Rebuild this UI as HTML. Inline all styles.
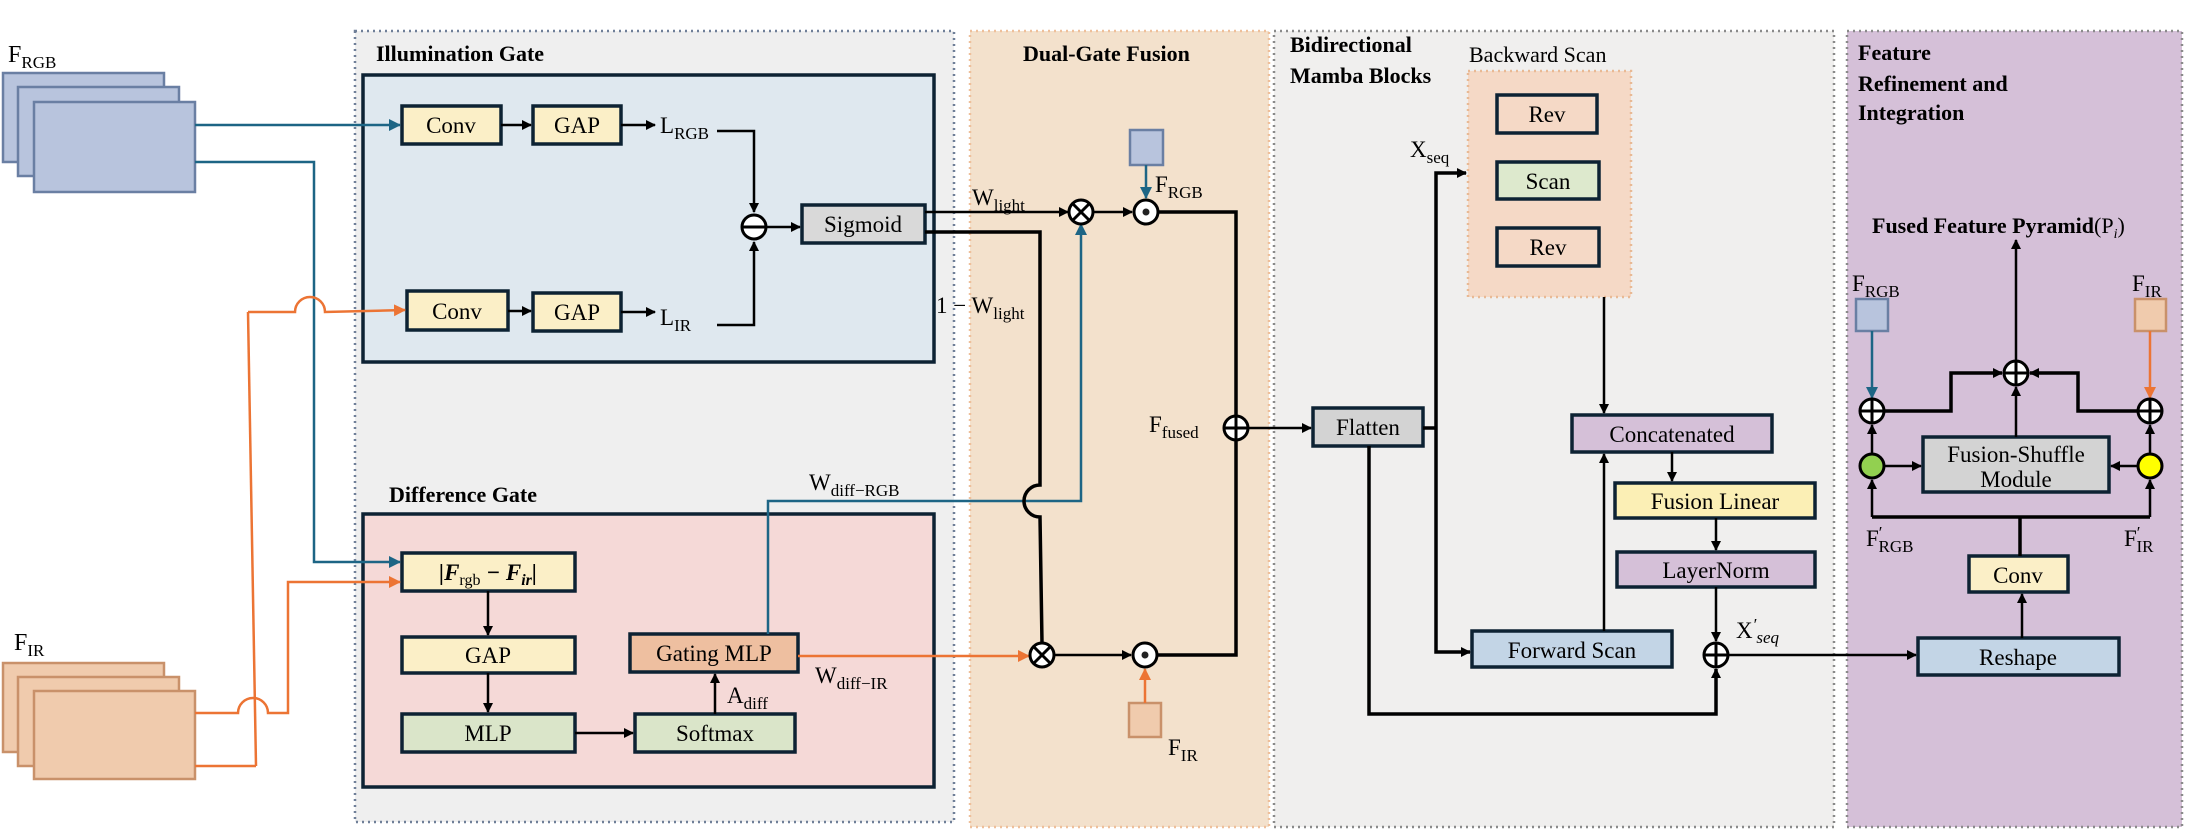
<!DOCTYPE html>
<html><head><meta charset="utf-8">
<style>
html,body{margin:0;padding:0;background:#fff;}
svg{display:block;font-family:"Liberation Serif","DejaVu Serif","Times New Roman",serif;}
svg text{font-family:"Liberation Serif","DejaVu Serif","Times New Roman",serif;fill:#000;}
.b{font-weight:bold;}
</style></head>
<body>
<svg width="2186" height="830" viewBox="0 0 2186 830" xmlns="http://www.w3.org/2000/svg" font-family="Liberation Serif, DejaVu Serif, serif">
<defs>
<marker id="ak" markerWidth="10" markerHeight="10" refX="9" refY="5" orient="auto" markerUnits="userSpaceOnUse"><path d="M0,0 L10,5 L0,10 z" fill="#000"/></marker>
<marker id="ab" markerWidth="12" markerHeight="12" refX="11" refY="6" orient="auto" markerUnits="userSpaceOnUse"><path d="M0,0 L12,6 L0,12 z" fill="#1d6585"/></marker>
<marker id="ao" markerWidth="12" markerHeight="12" refX="11" refY="6" orient="auto" markerUnits="userSpaceOnUse"><path d="M0,0 L12,6 L0,12 z" fill="#ec7434"/></marker>
</defs>

<!-- panels -->
<rect x="355" y="31" width="599" height="791" fill="#efefef" stroke="#6f7f98" stroke-width="2.5" stroke-dasharray="2,4"/>
<rect x="970" y="31" width="299" height="796" fill="#f3e1cc" stroke="#eebf9a" stroke-width="2.5" stroke-dasharray="2,4"/>
<rect x="1274" y="31" width="560" height="796" fill="#f0efee" stroke="#8a8a8a" stroke-width="2.5" stroke-dasharray="2,4"/>
<rect x="1847" y="31" width="335" height="796" fill="#d5c0d8" stroke="#8a8a8a" stroke-width="2.5" stroke-dasharray="2,4"/>

<!-- titles -->
<text x="376" y="61" font-size="22" class="b">Illumination Gate</text>
<text x="389" y="502" font-size="22" class="b">Difference Gate</text>
<text x="1023" y="61" font-size="22" class="b">Dual-Gate Fusion</text>
<text x="1290" y="52" font-size="22" class="b">Bidirectional</text>
<text x="1290" y="83" font-size="22" class="b">Mamba Blocks</text>
<text x="1469" y="62" font-size="22">Backward Scan</text>
<text x="1858" y="60" font-size="22" class="b">Feature</text>
<text x="1858" y="91" font-size="22" class="b">Refinement and</text>
<text x="1858" y="120" font-size="22" class="b">Integration</text>
<text x="1872" y="233" font-size="22" class="b">Fused Feature Pyramid<tspan font-weight="normal">(P</tspan><tspan font-weight="normal" font-style="italic" font-size="14" dy="5">i</tspan><tspan font-weight="normal" dy="-5">)</tspan></text>

<!-- inner boxes -->
<rect x="363" y="75" width="571" height="287" fill="#dfe8ef" stroke="#0d2233" stroke-width="3.5"/>
<rect x="363" y="514" width="571" height="273" fill="#f5d9d7" stroke="#0d2233" stroke-width="3.5"/>
<rect x="1468" y="71" width="163" height="226" fill="#f5d9c6" stroke="#e8b994" stroke-width="2.5" stroke-dasharray="2,4"/>

<!-- RGB stack -->
<g fill="#b8c4dd" stroke="#6a7fa3" stroke-width="2.5">
<rect x="3" y="73" width="161" height="89"/>
<rect x="18" y="87" width="161" height="89"/>
<rect x="34" y="102" width="161" height="90"/>
</g>
<text x="8" y="62" font-size="24">F<tspan font-size="17" dy="6">RGB</tspan></text>
<!-- IR stack -->
<g fill="#f0cbad" stroke="#c9916a" stroke-width="2.5">
<rect x="3" y="663" width="161" height="89"/>
<rect x="18" y="677" width="161" height="89"/>
<rect x="34" y="691" width="161" height="88"/>
</g>
<text x="14" y="650" font-size="24">F<tspan font-size="17" dy="6">IR</tspan></text>

<g stroke="#0d2233" stroke-width="3.5">
<rect x="402" y="106" width="99" height="38" fill="#fbefc7"/>
<rect x="533" y="106" width="88" height="38" fill="#fbefc7"/>
<rect x="407" y="291" width="101" height="39" fill="#fbefc7"/>
<rect x="533" y="293" width="88" height="38" fill="#fbefc7"/>
<rect x="802" y="205" width="123" height="38" fill="#d9d9d9"/>
<rect x="402" y="553" width="173" height="38" fill="#fbefc7"/>
<rect x="402" y="637" width="173" height="36" fill="#fbefc7"/>
<rect x="402" y="714" width="173" height="38" fill="#dae5c9"/>
<rect x="635" y="714" width="160" height="38" fill="#dae5c9"/>
<rect x="630" y="634" width="168" height="38" fill="#eebfa0"/>
<rect x="1497" y="95" width="100" height="38" fill="#f5d9c6"/>
<rect x="1497" y="162" width="102" height="37" fill="#dde9cd"/>
<rect x="1497" y="228" width="102" height="38" fill="#f5d9c6"/>
<rect x="1313" y="408" width="110" height="38" fill="#d3d3d3"/>
<rect x="1572" y="415" width="200" height="37" fill="#d5c0d8"/>
<rect x="1615" y="483" width="200" height="35" fill="#fbefb5"/>
<rect x="1617" y="552" width="198" height="35" fill="#d5c0d8"/>
<rect x="1472" y="631" width="200" height="36" fill="#c3d5e6"/>
<rect x="1918" y="638" width="201" height="37" fill="#c3d5e6"/>
<rect x="1969" y="556" width="99" height="36" fill="#fbefc7"/>
<rect x="1923" y="437" width="186" height="55" fill="#d3d3d3"/>
</g>
<g font-size="23" text-anchor="middle">
<text x="451" y="133">Conv</text>
<text x="577" y="133">GAP</text>
<text x="457" y="319">Conv</text>
<text x="577" y="320">GAP</text>
<text x="863" y="232">Sigmoid</text>
<text x="488" y="580" font-style="italic" font-weight="bold">|F<tspan font-size="16" font-style="normal" font-weight="normal" dy="5">rgb</tspan><tspan dy="-5"> − F</tspan><tspan font-size="16" dy="5">ir</tspan><tspan dy="-5">|</tspan></text>
<text x="488" y="663">GAP</text>
<text x="488" y="741">MLP</text>
<text x="715" y="741">Softmax</text>
<text x="714" y="661">Gating MLP</text>
<text x="1547" y="122">Rev</text>
<text x="1548" y="189">Scan</text>
<text x="1548" y="255">Rev</text>
<text x="1368" y="435">Flatten</text>
<text x="1672" y="442">Concatenated</text>
<text x="1715" y="509">Fusion Linear</text>
<text x="1716" y="578">LayerNorm</text>
<text x="1572" y="658">Forward Scan</text>
<text x="2018" y="665">Reshape</text>
<text x="2018" y="583">Conv</text>
<text x="2016" y="462">Fusion-Shuffle</text>
<text x="2016" y="487">Module</text>
</g>

<g fill="none" stroke="#000" stroke-width="2.5">
<line x1="501" y1="125" x2="531" y2="125" marker-end="url(#ak)"/>
<line x1="621" y1="125" x2="655" y2="125" marker-end="url(#ak)"/>
<line x1="508" y1="311" x2="531" y2="311" marker-end="url(#ak)"/>
<line x1="621" y1="312" x2="655" y2="312" marker-end="url(#ak)"/>
<polyline points="717,131 754,131 754,212" marker-end="url(#ak)"/>
<polyline points="717,325 754,325 754,242" marker-end="url(#ak)"/>
<line x1="767" y1="227" x2="800" y2="227" marker-end="url(#ak)"/>
<line x1="488" y1="591" x2="488" y2="635" marker-end="url(#ak)"/>
<line x1="488" y1="673" x2="488" y2="712" marker-end="url(#ak)"/>
<line x1="575" y1="733" x2="633" y2="733" marker-end="url(#ak)"/>
<line x1="715" y1="714" x2="715" y2="674" marker-end="url(#ak)"/>
</g>
<circle cx="754" cy="227" r="12" fill="#fff" stroke="#000" stroke-width="3"/>
<line x1="743" y1="227" x2="765" y2="227" stroke="#000" stroke-width="3"/>
<text x="660" y="133" font-size="23">L<tspan font-size="17" dy="6">RGB</tspan></text>
<text x="660" y="325" font-size="23">L<tspan font-size="17" dy="6">IR</tspan></text>
<text x="727" y="703" font-size="23">A<tspan font-size="17" dy="6">diff</tspan></text>
<text x="809" y="490" font-size="23">W<tspan font-size="17" dy="6">diff−RGB</tspan></text>
<text x="815" y="683" font-size="23">W<tspan font-size="17" dy="6">diff−IR</tspan></text>

<g fill="none" stroke-width="2.5">
<line x1="195" y1="125" x2="400" y2="125" stroke="#1d6585" marker-end="url(#ab)"/>
<polyline points="195,162 314,162 314,562 400,562" stroke="#1d6585" marker-end="url(#ab)"/>
<path d="M248,312 L295,312 A15,15 0 0 1 325,312 L405,310" stroke="#ec7434" marker-end="url(#ao)"/>
<line x1="248" y1="312" x2="256" y2="766" stroke="#ec7434"/>
<line x1="195" y1="766" x2="256" y2="766" stroke="#ec7434"/>
<path d="M195,713 L238,713 A15,15 0 0 1 268,713 L288,713 L288,582 L400,582" stroke="#ec7434" marker-end="url(#ao)"/>
<polyline points="768,634 768,501 1081,501 1081,224" stroke="#1d6585" marker-end="url(#ab)"/>
<line x1="798" y1="656" x2="1029" y2="656" stroke="#ec7434" marker-end="url(#ao)"/>
</g>

<g fill="none" stroke="#000">
<line x1="925" y1="212" x2="1068" y2="212" stroke-width="2.5" marker-end="url(#ak)"/>
<path d="M925,232 L1040,232 L1040,485 A16,16 0 0 0 1040,517 L1042,643" stroke-width="3.5"/>
<line x1="1093" y1="212" x2="1132" y2="212" stroke-width="2.5" marker-end="url(#ak)"/>
<line x1="1054" y1="655" x2="1131" y2="655" stroke-width="2.5" marker-end="url(#ak)"/>
<polyline points="1158,212 1236,212 1236,655 1158,655" stroke-width="3.5"/>
<line x1="1248" y1="428" x2="1311" y2="428" stroke-width="2.5" marker-end="url(#ak)"/>
</g>
<rect x="1130" y="130" width="33" height="35" fill="#b8c4dd" stroke="#6a7fa3" stroke-width="2.5"/>
<line x1="1146" y1="165" x2="1146" y2="198" stroke="#1d6585" stroke-width="2.5" marker-end="url(#ab)"/>
<rect x="1129" y="703" width="32" height="34" fill="#f0cbad" stroke="#c9916a" stroke-width="2.5"/>
<line x1="1145" y1="703" x2="1145" y2="669" stroke="#ec7434" stroke-width="2.5" marker-end="url(#ao)"/>
<g stroke="#000" stroke-width="3" fill="#fff">
<circle cx="1081" cy="212" r="12"/><line x1="1073" y1="204" x2="1089" y2="220"/><line x1="1089" y1="204" x2="1073" y2="220"/>
<circle cx="1042" cy="655" r="12"/><line x1="1034" y1="647" x2="1050" y2="663"/><line x1="1050" y1="647" x2="1034" y2="663"/>
<circle cx="1146" cy="212" r="12"/>
<circle cx="1145" cy="655" r="12"/>
<circle cx="1236" cy="428" r="12"/><line x1="1224" y1="428" x2="1248" y2="428"/><line x1="1236" y1="416" x2="1236" y2="440"/>
</g>
<circle cx="1146" cy="212" r="3.5" fill="#222"/>
<circle cx="1145" cy="655" r="3.5" fill="#222"/>
<text x="972" y="205" font-size="23">W<tspan font-size="17" dy="6">light</tspan></text>
<text x="936" y="313" font-size="23">1 − W<tspan font-size="17" dy="6">light</tspan></text>
<text x="1155" y="192" font-size="23">F<tspan font-size="17" dy="6">RGB</tspan></text>
<text x="1168" y="755" font-size="23">F<tspan font-size="17" dy="6">IR</tspan></text>
<text x="1149" y="432" font-size="23">F<tspan font-size="17" dy="6">fused</tspan></text>

<g fill="none" stroke="#000">
<line x1="1423" y1="428" x2="1436" y2="428" stroke-width="3.5"/>
<polyline points="1466,173 1436,173 1436,652 1470,652" stroke-width="3.5"/>
<line x1="1450" y1="173" x2="1466" y2="173" stroke-width="2.5" marker-end="url(#ak)"/>
<line x1="1450" y1="652" x2="1470" y2="652" stroke-width="2.5" marker-end="url(#ak)"/>
<line x1="1604" y1="297" x2="1604" y2="413" stroke-width="2.5" marker-end="url(#ak)"/>
<line x1="1604" y1="631" x2="1604" y2="454" stroke-width="2.5" marker-end="url(#ak)"/>
<line x1="1672" y1="452" x2="1672" y2="481" stroke-width="2.5" marker-end="url(#ak)"/>
<line x1="1716" y1="518" x2="1716" y2="550" stroke-width="2.5" marker-end="url(#ak)"/>
<line x1="1716" y1="587" x2="1716" y2="641" stroke-width="2.5" marker-end="url(#ak)"/>
<polyline points="1369,446 1369,714 1716,714 1716,669" stroke-width="3.5"/>
<line x1="1716" y1="690" x2="1716" y2="669" stroke-width="2.5" marker-end="url(#ak)"/>
<line x1="1728" y1="655" x2="1916" y2="655" stroke-width="2.5" marker-end="url(#ak)"/>
</g>
<g stroke="#000" stroke-width="3" fill="#fff">
<circle cx="1716" cy="655" r="12"/><line x1="1704" y1="655" x2="1728" y2="655"/><line x1="1716" y1="643" x2="1716" y2="667"/>
</g>
<text x="1410" y="157" font-size="23">X<tspan font-size="17" dy="6">seq</tspan></text>
<text x="1736" y="638" font-size="23">X<tspan font-style="italic" font-size="17" dy="-8">′</tspan><tspan font-style="italic" font-size="17" dy="13">seq</tspan></text>

<g fill="none" stroke="#000">
<line x1="2022" y1="638" x2="2022" y2="594" stroke-width="2.5" marker-end="url(#ak)"/>
<line x1="2020" y1="556" x2="2020" y2="517" stroke-width="3.5"/>
<line x1="1872" y1="517" x2="2150" y2="517" stroke-width="3.5"/>
<line x1="1872" y1="517" x2="1872" y2="480" stroke-width="2.5" marker-end="url(#ak)"/>
<line x1="2150" y1="517" x2="2150" y2="480" stroke-width="2.5" marker-end="url(#ak)"/>
<line x1="1884" y1="466" x2="1921" y2="466" stroke-width="2.5" marker-end="url(#ak)"/>
<line x1="2138" y1="466" x2="2111" y2="466" stroke-width="2.5" marker-end="url(#ak)"/>
<line x1="1872" y1="454" x2="1872" y2="425" stroke-width="2.5" marker-end="url(#ak)"/>
<line x1="2150" y1="454" x2="2150" y2="425" stroke-width="2.5" marker-end="url(#ak)"/>
<polyline points="1884,411 1951,411 1951,373 2002,373" stroke-width="3.5" marker-end="url(#ak)"/>
<polyline points="2138,411 2078,411 2078,373 2030,373" stroke-width="3.5" marker-end="url(#ak)"/>
<line x1="2016" y1="437" x2="2016" y2="387" stroke-width="2.5" marker-end="url(#ak)"/>
<line x1="2016" y1="361" x2="2016" y2="240" stroke-width="2.5" marker-end="url(#ak)"/>
</g>
<rect x="1856" y="299" width="32" height="32" fill="#b8c4dd" stroke="#6a7fa3" stroke-width="2.5"/>
<line x1="1872" y1="331" x2="1872" y2="398" stroke="#1d6585" stroke-width="2.5" marker-end="url(#ab)"/>
<rect x="2135" y="299" width="31" height="32" fill="#f0cbad" stroke="#c9916a" stroke-width="2.5"/>
<line x1="2150" y1="331" x2="2150" y2="398" stroke="#ec7434" stroke-width="2.5" marker-end="url(#ao)"/>
<g stroke="#000" stroke-width="3" fill="#fff">
<circle cx="1872" cy="411" r="12"/><line x1="1860" y1="411" x2="1884" y2="411"/><line x1="1872" y1="399" x2="1872" y2="423"/>
<circle cx="2150" cy="411" r="12"/><line x1="2138" y1="411" x2="2162" y2="411"/><line x1="2150" y1="399" x2="2150" y2="423"/>
<circle cx="2016" cy="373" r="12"/><line x1="2004" y1="373" x2="2028" y2="373"/><line x1="2016" y1="361" x2="2016" y2="385"/>
<circle cx="1872" cy="466" r="12" fill="#92d050"/>
<circle cx="2150" cy="466" r="12" fill="#ffff00"/>
</g>
<text x="1852" y="291" font-size="23">F<tspan font-size="17" dy="6">RGB</tspan></text>
<text x="2132" y="291" font-size="23">F<tspan font-size="17" dy="6">IR</tspan></text>
<text x="1866" y="546" font-size="23">F<tspan font-size="17" dy="-8">′</tspan><tspan font-size="17" dy="14" dx="-4">RGB</tspan></text>
<text x="2124" y="546" font-size="23">F<tspan font-size="17" dy="-8">′</tspan><tspan font-size="17" dy="14" dx="-4">IR</tspan></text>
</svg>
</body></html>
